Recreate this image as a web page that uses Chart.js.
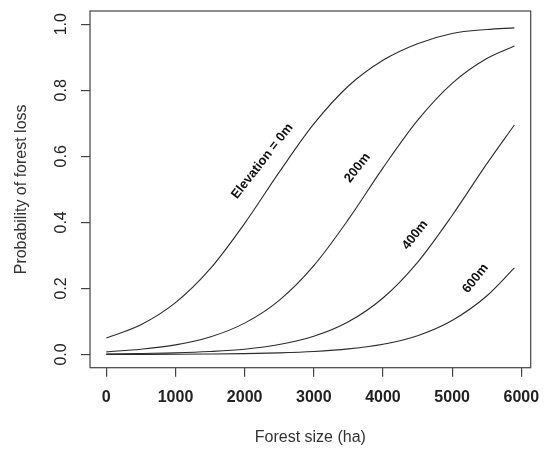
<!DOCTYPE html>
<html>
<head>
<meta charset="utf-8">
<script src="https://cdn.jsdelivr.net/npm/chart.js@4.4.1/dist/chart.umd.min.js"></script>
<style>
  html, body { margin: 0; padding: 0; background: #ffffff; }
  canvas { display: block; }
</style>
</head>
<body>
<canvas id="c" width="550" height="458"></canvas>
<script>
// ---- data ----
const forestSize = [0, 500, 1000, 1500, 2000, 2500, 3000, 3500, 4000, 4500, 5000, 5500, 5900];
const elev0m   = [0.050, 0.090, 0.157, 0.259, 0.397, 0.552, 0.698, 0.813, 0.891, 0.941, 0.972, 0.984, 0.989];
const elev200m = [0.008, 0.016, 0.029, 0.053, 0.095, 0.164, 0.269, 0.409, 0.565, 0.709, 0.821, 0.896, 0.934];
const elev400m = [0.001, 0.003, 0.005, 0.009, 0.016, 0.030, 0.055, 0.099, 0.171, 0.279, 0.421, 0.577, 0.695];
const elev600m = [0.0002, 0.0004, 0.0007, 0.0014, 0.0026, 0.0049, 0.0091, 0.017, 0.031, 0.057, 0.103, 0.177, 0.262];
const seriesNames = ["Elevation = 0m", "200m", "400m", "600m"];
const labelX = [2256, 3632, 4465, 5338];
const labelY = [0.585, 0.565, 0.362, 0.230];
const xTicks = [0, 1000, 2000, 3000, 4000, 5000, 6000];
const yTicks = [0.0, 0.2, 0.4, 0.6, 0.8, 1.0];
const xTitle = "Forest size (ha)";
const yTitle = "Probability of forest loss";

const allSeries = [elev0m, elev200m, elev400m, elev600m];
const FONT = '"Liberation Sans", Arial, Helvetica, sans-serif';

const datasets = allSeries.map((vals, i) => ({
  label: seriesNames[i],
  data: forestSize.map((x, j) => ({ x: x, y: vals[j] })),
  borderColor: '#2b2b2b',
  borderWidth: 1.1,
  pointRadius: 0,
  fill: false,
  cubicInterpolationMode: 'monotone'
}));

const rPlot = {
  id: 'rPlot',
  afterDraw(chart) {
    const { ctx, chartArea: a, scales: { x, y } } = chart;
    ctx.save();
    // box
    ctx.strokeStyle = '#444';
    ctx.lineWidth = 1.2;
    ctx.strokeRect(a.left, a.top, a.right - a.left, a.bottom - a.top);

    // y tick labels (rotated, R style)
    ctx.fillStyle = '#222';
    ctx.font = '16px ' + FONT;
    ctx.textAlign = 'center';
    ctx.textBaseline = 'middle';
    yTicks.forEach(v => {
      const py = y.getPixelForValue(v);
      ctx.save();
      ctx.translate(a.left - 28, py);
      ctx.rotate(-Math.PI / 2);
      ctx.fillText(v.toFixed(1), 0, 0);
      ctx.restore();
    });

    // x tick labels
    ctx.font = 'bold 16px ' + FONT;
    xTicks.forEach(v => {
      ctx.fillText(String(v), x.getPixelForValue(v), a.bottom + 30);
    });

    // axis titles
    ctx.fillStyle = '#333';
    ctx.font = '16px ' + FONT;
    ctx.fillText(xTitle, (a.left + a.right) / 2, a.bottom + 70);
    ctx.save();
    ctx.translate(22, (a.top + a.bottom) / 2);
    ctx.rotate(-Math.PI / 2);
    ctx.fillText(yTitle, 0, 0);
    ctx.restore();

    // curve labels
    ctx.fillStyle = '#111';
    ctx.font = 'bold 13px ' + FONT;
    seriesNames.forEach((name, i) => {
      ctx.save();
      ctx.translate(x.getPixelForValue(labelX[i]), y.getPixelForValue(labelY[i]));
      ctx.rotate(-52 * Math.PI / 180);
      ctx.fillText(name, 0, 0);
      ctx.restore();
    });
    ctx.restore();
  }
};

new Chart(document.getElementById('c'), {
  type: 'line',
  data: { datasets: datasets },
  plugins: [rPlot],
  options: {
    responsive: false,
    animation: false,
    events: [],
    layout: { padding: { top: 11, right: 19.3, left: 0, bottom: 0 } },
    plugins: { legend: { display: false }, tooltip: { enabled: false } },
    scales: {
      x: {
        type: 'linear',
        min: -236,
        max: 6136,
        afterBuildTicks: s => { s.ticks = xTicks.map(v => ({ value: v })); },
        afterFit: s => { s.height = 90.3; },
        ticks: { display: false },
        border: { display: false },
        grid: { drawOnChartArea: false, drawTicks: true, tickLength: 9, color: '#444', lineWidth: 1.2 }
      },
      y: {
        type: 'linear',
        min: -0.04,
        max: 1.04,
        afterBuildTicks: s => { s.ticks = yTicks.map(v => ({ value: v })); },
        afterFit: s => { s.width = 90; },
        ticks: { display: false },
        border: { display: false },
        grid: { drawOnChartArea: false, drawTicks: true, tickLength: 9, color: '#444', lineWidth: 1.2 }
      }
    }
  }
});
</script>
</body>
</html>
